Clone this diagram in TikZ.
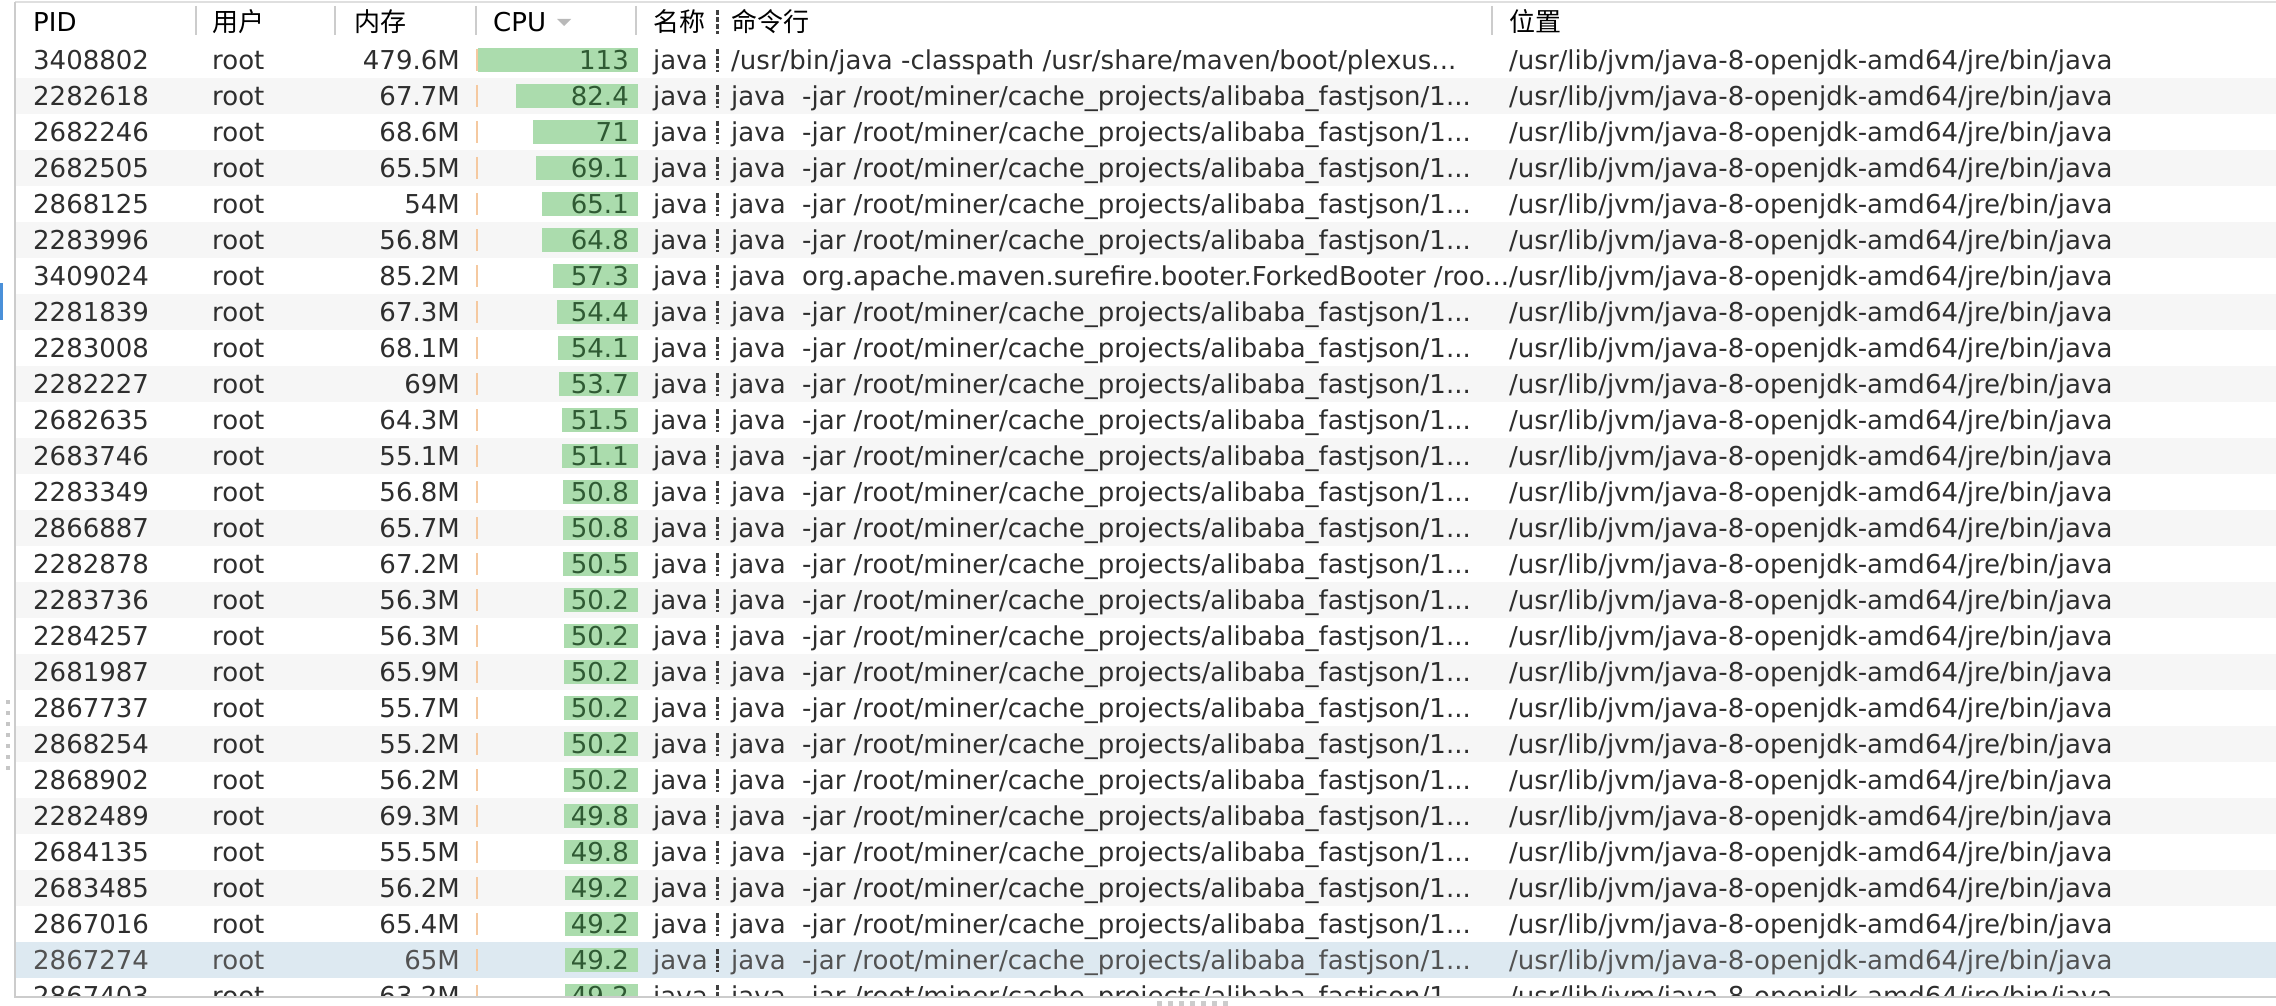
\documentclass[tikz,border=0pt]{standalone}
\usepackage{fontspec}
\setmainfont{DejaVu Sans}
\newfontfamily\cjk{Noto Sans CJK SC}
\definecolor{txt}{HTML}{2E2E2E}
\definecolor{alt}{HTML}{F6F6F6}
\definecolor{sel}{HTML}{DDE9F1}
\definecolor{barg}{HTML}{ABDCAD}
\definecolor{bart}{HTML}{2F5A33}
\definecolor{peach}{HTML}{F5C9A0}
\definecolor{divc}{HTML}{CCCCCC}
\definecolor{bluebit}{HTML}{4A90D9}
\newcommand{\cmdA}{/usr/bin/java -classpath /usr/share/maven/boot/plexus...}
\newcommand{\cmdJ}{java\ \ -jar /root/miner/cache\_projects/alibaba\_fastjson/1...}
\newcommand{\cmdO}{java\ \ org.apache.maven.surefire.booter.ForkedBooter /roo...}
\newcommand{\locpath}{/usr/lib/jvm/java-8-openjdk-amd64/jre/bin/java}
\tikzset{
  cell/.style={inner sep=0pt, anchor=base west, text=txt, font=\fontsize{26}{30}\selectfont},
  rcell/.style={cell, anchor=base east},
  hcell/.style={cell, text=black},
  hdiv/.style={draw=divc, line width=1.5pt},
  dashdiv/.style={draw=black!75, line width=3pt, dash pattern=on 5pt off 2pt},
}
\begin{document}
\begin{tikzpicture}[x=1pt,y=-1pt]
\useasboundingbox (0,0) rectangle (2276,1006);
\fill[white] (0,0) rectangle (2276,1006);
% left strip artifacts
\fill[bluebit] (0,283) rectangle (3,320);
\foreach \k in {0,...,6} \fill[gray!45] (6,{700+\k*11}) rectangle (10,{704+\k*11});
% header
\draw[draw=gray!25, line width=1.5pt] (15,2) -- (2276,2);
\node[hcell] (hpid) at (33,32) {PID};
\node[hcell] (huser) at (212,32) {\cjk 用户};
\node[hcell] (hmem) at (354,32) {\cjk 内存};
\node[hcell] (hcpu) at (493,32) {CPU};
\fill[gray!55] (557,19) -- (571,19) -- (564,26) -- cycle;
\node[hcell] (hname) at (653,32) {\cjk 名称};
\node[hcell] (hcmd) at (731,32) {\cjk 命令行};
\node[hcell] (hloc) at (1509,32) {\cjk 位置};
\foreach \x in {196,335,476,636,1492} \draw[hdiv] (\x,6) -- (\x,35);
\draw[dashdiv] (717,10) -- (717,34);
% rows
\begin{scope}
\clip (15,42) rectangle (2276,997);
\foreach [count=\i from 0] \pid/\mem/\cpu/\cmd in {
3408802/479.6M/113/A, 2282618/67.7M/82.4/J, 2682246/68.6M/71/J, 2682505/65.5M/69.1/J,
2868125/54M/65.1/J, 2283996/56.8M/64.8/J, 3409024/85.2M/57.3/O, 2281839/67.3M/54.4/J,
2283008/68.1M/54.1/J, 2282227/69M/53.7/J, 2682635/64.3M/51.5/J, 2683746/55.1M/51.1/J,
2283349/56.8M/50.8/J, 2866887/65.7M/50.8/J, 2282878/67.2M/50.5/J, 2283736/56.3M/50.2/J,
2284257/56.3M/50.2/J, 2681987/65.9M/50.2/J, 2867737/55.7M/50.2/J, 2868254/55.2M/50.2/J,
2868902/56.2M/50.2/J, 2282489/69.3M/49.8/J, 2684135/55.5M/49.8/J, 2683485/56.2M/49.2/J,
2867016/65.4M/49.2/J, 2867274/65M/49.2/J, 2867403/63.2M/49.2/J}{
  \pgfmathsetmacro{\rtop}{42+36*\i}
  \pgfmathsetmacro{\rbase}{\rtop+27.5}
  \pgfmathsetmacro{\bw}{min(\cpu*1.48,160)}
  \ifnum\i=25
    \fill[sel] (15,\rtop) rectangle (2276,\rtop+36);
    \def\tc{black!68}
  \else
    \def\tc{txt}
    \ifodd\i \fill[alt] (15,\rtop) rectangle (2276,\rtop+36); \fi
  \fi
  \fill[barg] (638-\bw,\rtop+6) rectangle (638,\rtop+30);
  \draw[peach, line width=1.5pt] (477,\rtop+7) -- (477,\rtop+29);
  \draw[dashdiv] (717,\rtop+7) -- (717,\rtop+30);
  \node[cell, text=\tc] (pid\i) at (33,\rbase) {\pid};
  \node[cell, text=\tc] (usr\i) at (212,\rbase) {root};
  \node[rcell, text=\tc] (mem\i) at (460,\rbase) {\mem};
  \node[rcell, text=bart] (cpu\i) at (629,\rbase) {\cpu};
  \node[cell, text=\tc] (nm\i) at (653,\rbase) {java};
  \node[cell, text=\tc] (cm\i) at (731,\rbase) {\csname cmd\cmd\endcsname};
  \node[cell, text=\tc] (loc\i) at (1509,\rbase) {\locpath};
}
\end{scope}
% frame
\draw[divc, line width=1.5pt] (15,2) -- (15,997) -- (2276,997);
\foreach \k in {0,...,6} \fill[gray!40] ({1157+\k*11},1001) rectangle ({1162+\k*11},1006);
\end{tikzpicture}
\end{document}
